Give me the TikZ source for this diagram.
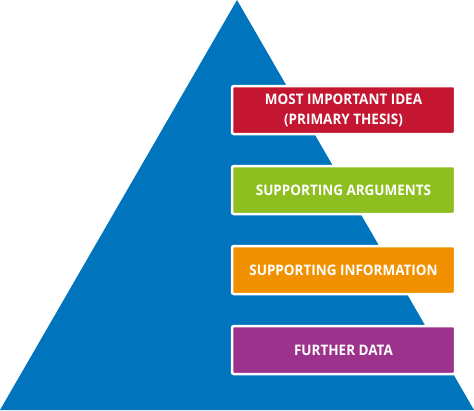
\documentclass[tikz,border=0pt]{standalone}
\usepackage{fontspec}
\setmainfont[FakeStretch=0.93]{Open Sans}
\definecolor{pyrblue}{RGB}{0,117,190}
\definecolor{boxred}{RGB}{196,22,48}
\definecolor{boxgreen}{RGB}{141,191,33}
\definecolor{boxorange}{RGB}{242,145,0}
\definecolor{boxpurple}{RGB}{155,50,140}
\begin{document}
\begin{tikzpicture}[x=1pt,y=-1pt,
  level/.style={draw=white, line width=2.5pt, rounded corners=2pt,
    minimum width=223pt, minimum height=48pt, inner sep=0pt,
    text=white, font=\fontsize{14.5}{20}\selectfont\bfseries, align=center}]
\useasboundingbox (0,0) rectangle (474,410);
\coordinate (apex) at (237,0);
\coordinate (br) at (474,410);
\coordinate (bl) at (0,410);
\fill[pyrblue] (apex) -- (br) -- (bl) -- cycle;
\node[level, fill=boxred] (thesis) at (343.5,110) {MOST IMPORTANT IDEA\\(PRIMARY THESIS)};
\node[level, fill=boxgreen] (args) at (343.5,190) {SUPPORTING ARGUMENTS};
\node[level, fill=boxorange] (info) at (343.5,270) {SUPPORTING INFORMATION};
\node[level, fill=boxpurple] (data) at (343.5,350) {FURTHER DATA};
\end{tikzpicture}
\end{document}
